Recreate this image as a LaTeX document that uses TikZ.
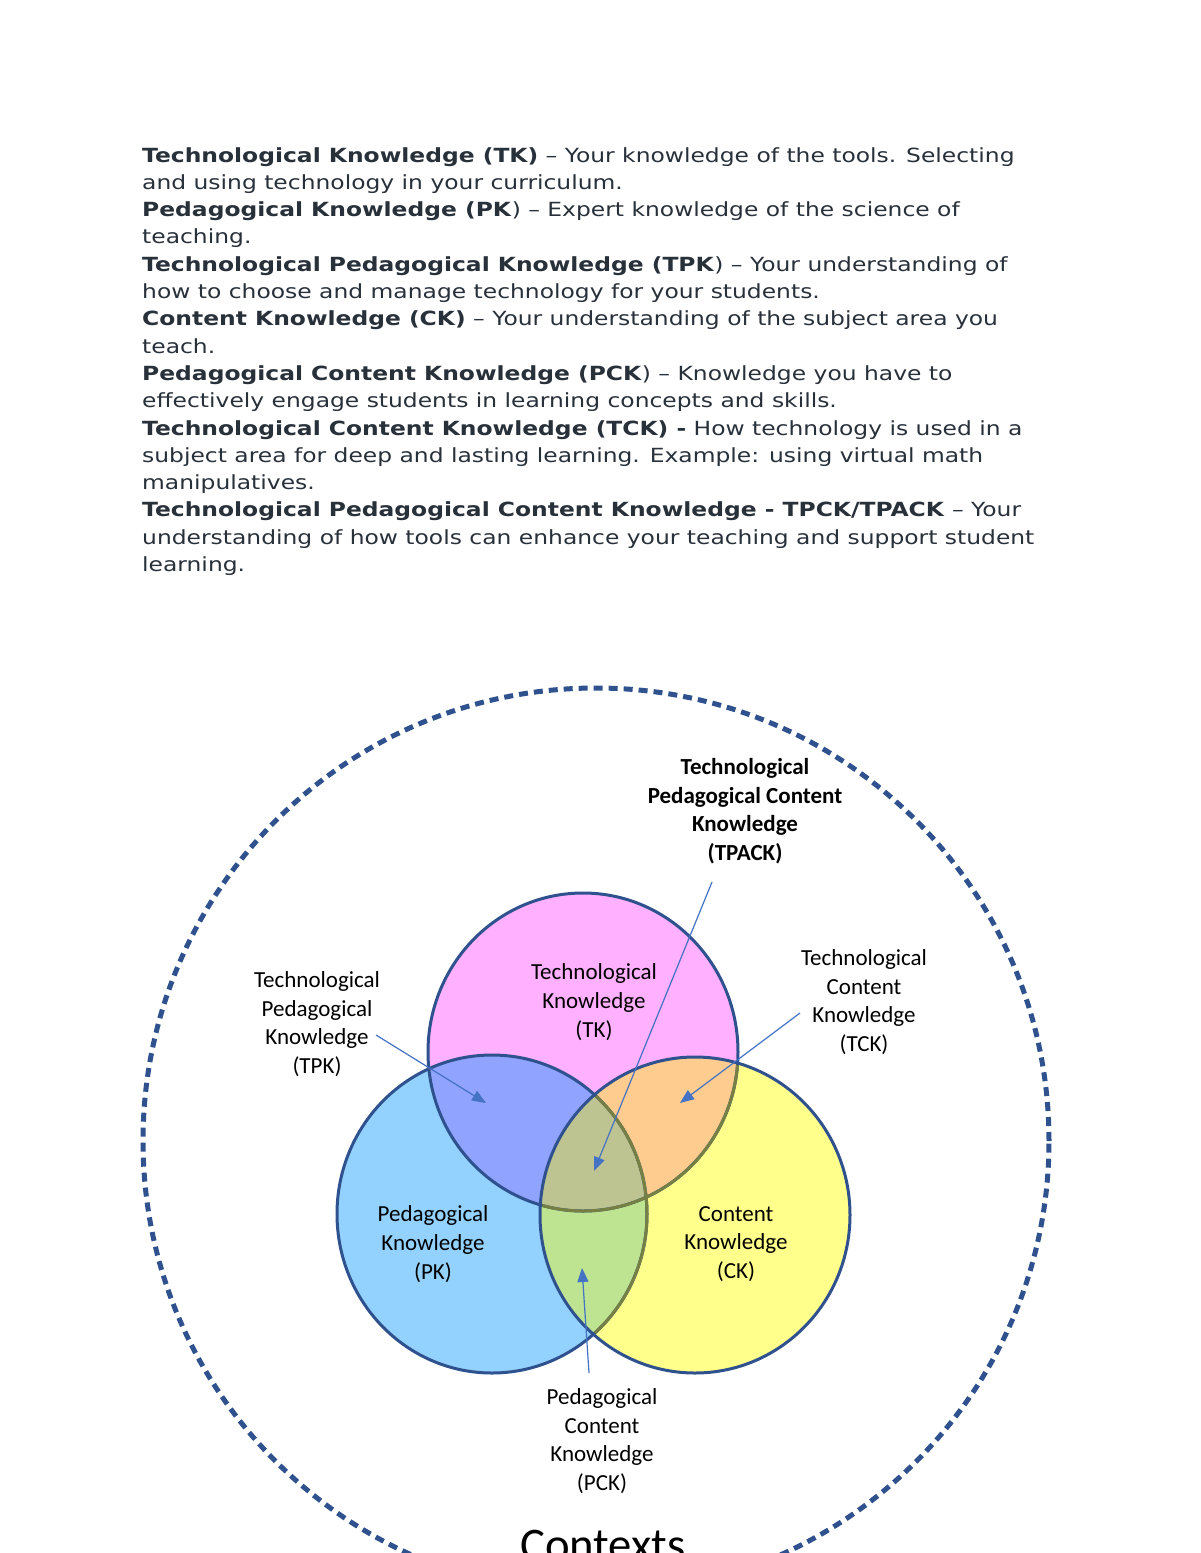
\documentclass[tikz,border=0pt]{standalone}
\usepackage{fontspec}
\setmainfont{Carlito}
\newfontfamily\dvfont[FakeStretch=1.2]{DejaVu Sans}
\newfontfamily\carlfont{Carlito}
\usetikzlibrary{arrows.meta}
\definecolor{txtc}{RGB}{40,48,58}
\definecolor{tkc}{RGB}{255,176,255}
\definecolor{pkc}{RGB}{147,210,255}
\definecolor{ckc}{RGB}{255,255,140}
\definecolor{tpc}{RGB}{143,163,255}
\definecolor{tcc}{RGB}{255,204,144}
\definecolor{pcc}{RGB}{190,228,145}
\definecolor{allc}{RGB}{190,196,145}
\definecolor{edgec}{RGB}{47,82,143}
\definecolor{olivec}{RGB}{118,128,66}
\definecolor{arrc}{RGB}{68,114,196}
\tikzset{
  txt/.style={anchor=base west, inner sep=0pt, text=txtc, font=\dvfont\fontsize{19.5}{23}\selectfont},
  lbl/.style={align=center, inner sep=0pt, font=\carlfont\fontsize{23}{28.6}\selectfont},
  arr/.style={draw=arrc, line width=1.2pt, -{Triangle[length=14pt,width=11pt]}},
  ring/.style={draw=edgec, line width=3pt},
}
\def\TK{(583,1052) ellipse [x radius=155pt, y radius=159pt]}
\def\PK{(492,1214) ellipse [x radius=155pt, y radius=159pt]}
\def\CK{(695,1215) ellipse [x radius=155pt, y radius=158pt]}
\begin{document}
\begin{tikzpicture}[x=1pt,y=-1pt]
\useasboundingbox (0,0) rectangle (1200,1553);
\fill[white] (0,0) rectangle (1200,1553);

% definitions text
\node[txt] (l1) at (142,162) {\textbf{Technological Knowledge (TK)} – Your knowledge of the tools. Selecting};
\node[txt] (l2) at (142,189.3) {and using technology in your curriculum.};
\node[txt] (l3) at (142,216.6) {\textbf{Pedagogical Knowledge (PK}) – Expert knowledge of the science of};
\node[txt] (l4) at (142,243.9) {teaching.};
\node[txt] (l5) at (142,271.2) {\textbf{Technological Pedagogical Knowledge (TPK}) – Your understanding of};
\node[txt] (l6) at (142,298.5) {how to choose and manage technology for your students.};
\node[txt] (l7) at (142,325.8) {\textbf{Content Knowledge (CK)} – Your understanding of the subject area you};
\node[txt] (l8) at (142,353.1) {teach.};
\node[txt] (l9) at (142,380.4) {\textbf{Pedagogical Content Knowledge (PCK}) – Knowledge you have to};
\node[txt] (l10) at (142,407.7) {effectively engage students in learning concepts and skills.};
\node[txt] (l11) at (142,435) {\textbf{Technological Content Knowledge (TCK) -} How technology is used in a};
\node[txt] (l12) at (142,462.3) {subject area for deep and lasting learning. Example: using virtual math};
\node[txt] (l13) at (142,489.6) {manipulatives.};
\node[txt] (l14) at (142,516.9) {\textbf{Technological Pedagogical Content Knowledge - TPCK/TPACK} – Your};
\node[txt] (l15) at (142,544.2) {understanding of how tools can enhance your teaching and support student};
\node[txt] (l16) at (142,571.5) {learning.};

% contexts ring
\draw[edgec, line width=5pt, dash pattern=on 9pt off 6pt] (596,1141) circle [radius=453pt];

% venn fills
\fill[tkc] \TK;
\fill[pkc] \PK;
\fill[ckc] \CK;
\begin{scope} \clip \TK; \fill[tpc] \PK; \end{scope}
\begin{scope} \clip \TK; \fill[tcc] \CK; \end{scope}
\begin{scope} \clip \PK; \fill[pcc] \CK; \end{scope}
\begin{scope} \clip \TK; \clip \PK; \fill[allc] \CK; \end{scope}
% outlines
\draw[ring] \TK;
\draw[ring] \PK;
\begin{scope}
  \clip (695,1215) ellipse [x radius=153pt, y radius=156pt];
  \draw[ring, draw=olivec] \TK;
  \draw[ring, draw=olivec] \PK;
\end{scope}
\draw[ring] \CK;

% labels
\node[lbl, font=\carlfont\bfseries\fontsize{23}{28.6}\selectfont] (tpack) at (745,811) {Technological\\Pedagogical Content\\Knowledge\\(TPACK)};
\node[lbl] (tk) at (594,1002) {Technological\\Knowledge\\(TK)};
\node[lbl] (tpk) at (317,1024) {Technological\\Pedagogical\\Knowledge\\(TPK)};
\node[lbl] (tck) at (864,1002) {Technological\\Content\\Knowledge\\(TCK)};
\node[lbl] (pk) at (433,1244) {Pedagogical\\Knowledge\\(PK)};
\node[lbl] (ck) at (736,1244) {Content\\Knowledge\\(CK)};
\node[lbl] (pck) at (602,1441) {Pedagogical\\Content\\Knowledge\\(PCK)};
\node[anchor=base, inner sep=0pt, font=\carlfont\fontsize{46.7}{50}\selectfont] (ctx) at (603,1560) {Contexts};

% connectors
\coordinate (tpkA) at (376,1035);
\coordinate (tpkB) at (486,1103);
\coordinate (tckA) at (800,1013);
\coordinate (tckB) at (680,1103);
\coordinate (tpackA) at (712,882);
\coordinate (tpackB) at (594,1171);
\coordinate (pckA) at (589,1373);
\coordinate (pckB) at (582,1268);
\draw[arr] (tpkA) -- (tpkB);
\draw[arr] (tckA) -- (tckB);
\draw[arr] (tpackA) -- (tpackB);
\draw[arr] (pckA) -- (pckB);
\end{tikzpicture}
\end{document}
